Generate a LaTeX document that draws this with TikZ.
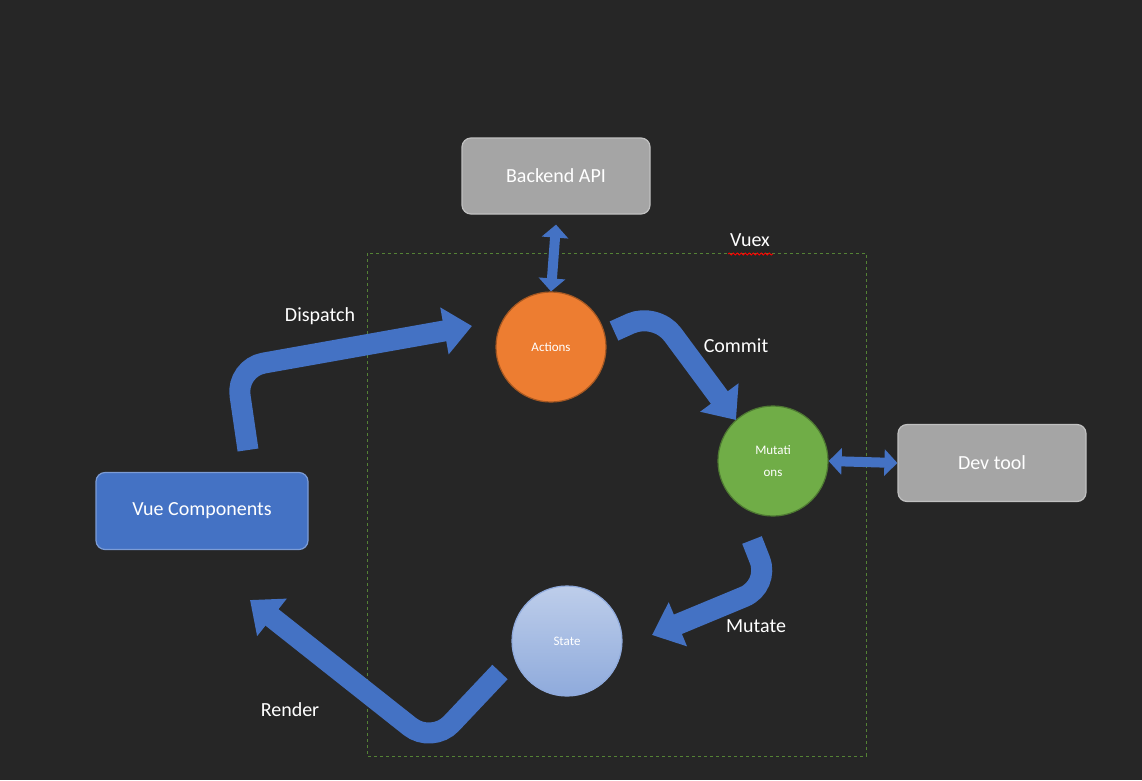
\documentclass[tikz,border=0pt]{standalone}
\usepackage{fontspec}
\setmainfont{Carlito}
\usetikzlibrary{arrows.meta,decorations.pathmorphing}
\definecolor{bg}{HTML}{262626}
\definecolor{vblue}{HTML}{4472C4}
\definecolor{vgray}{HTML}{A5A5A5}
\definecolor{vorange}{HTML}{ED7D31}
\definecolor{vgreen}{HTML}{70AD47}
\definecolor{vdash}{HTML}{548235}
\begin{document}
\begin{tikzpicture}[x=1pt,y=-1pt,
  box/.style={draw=#1!70!white,line width=1.2pt,fill=#1,rounded corners=9pt,text=white,font=\fontsize{20}{24}\selectfont,inner sep=0pt},
  circ/.style={circle,minimum size=110pt,inner sep=0pt,text=white,font=\fontsize{13}{16}\selectfont,align=center,line width=1.2pt},
  flow/.style={draw=vblue,line width=21pt,rounded corners=28pt,-{Triangle[length=28pt,width=46pt]}},
  dbl/.style={draw=vblue,line width=10pt,{Triangle[length=13pt,width=26pt]}-{Triangle[length=13pt,width=26pt]}},
  lbl/.style={text=white,font=\fontsize{20}{24}\selectfont}]
\fill[bg] (0,0) rectangle (1142,780);
\useasboundingbox (0,0) rectangle (1142,780);
\draw[vdash,dashed,line width=1pt] (367,253) rectangle (866,756);
\node[lbl] (vuex) at (750,240) {Vuex};
\draw[red,line width=0.8pt,decorate,decoration={snake,amplitude=1pt,segment length=4pt}] (728,254) -- (773,254);
\node[box=vgray,minimum width=188pt,minimum height=76pt] (api) at (556,176) {Backend API};
\node[box=vgray,minimum width=188pt,minimum height=77pt] (dev) at (992,463) {Dev tool};
\node[box=vblue,minimum width=212pt,minimum height=77pt] (vue) at (202,511) {Vue Components};
\node[circ,fill=vorange,draw=vorange!70!black] (act) at (551,347) {Actions};
\node[circ,fill=vgreen,draw=vgreen!70!black] (mut) at (773,461) {Mutati\\[6pt]ons};
\node[circ,top color=vblue!35!white,bottom color=vblue!60!white,draw=vblue!60!white] (st) at (567,641) {State};
\coordinate (d0) at (248,450); \coordinate (d1) at (236,368); \coordinate (d2) at (472,326);
\draw[flow] (d0) -- (d1) -- (d2);
\coordinate (c0) at (614,331); \coordinate (c1) at (656,312); \coordinate (c2) at (736,420);
\draw[flow] (c0) -- (c1) -- (c2);
\coordinate (m0) at (752,540); \coordinate (m1) at (770,586); \coordinate (m2) at (652,635);
\draw[flow] (m0) -- (m1) -- (m2);
\coordinate (r0) at (500,672); \coordinate (r1) at (432,744); \coordinate (r2) at (250,600);
\draw[flow] (r0) -- (r1) -- (r2);
\draw[dbl] (api.south) ++(0,10) coordinate (a0) -- (act.north);
\draw[dbl] (mut.east) -- (dev.west);
\node[lbl] (ldis) at (320,316) {Dispatch};
\node[lbl] (lcom) at (736,346) {Commit};
\node[lbl] (lmut) at (756,626) {Mutate};
\node[lbl] (lren) at (290,710) {Render};
\end{tikzpicture}
\end{document}
